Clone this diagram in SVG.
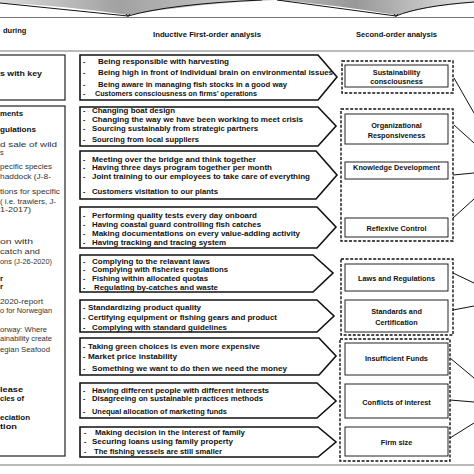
<svg xmlns="http://www.w3.org/2000/svg" width="474" height="474" viewBox="0 0 474 474">
<defs>
<linearGradient id="band" x1="0" y1="0" x2="1" y2="0">
<stop offset="0" stop-color="#bbb"/><stop offset="0.25" stop-color="#555"/><stop offset="0.5" stop-color="#999"/><stop offset="0.75" stop-color="#444"/><stop offset="1" stop-color="#ccc"/>
</linearGradient>
</defs>
<style>
.m{font-family:"Liberation Sans",Arial,sans-serif;font-weight:bold;font-size:7px;fill:#111}
.h{font-family:"Liberation Sans",Arial,sans-serif;font-weight:bold;font-size:7.5px;fill:#111}
.l{font-family:"Liberation Sans",Arial,sans-serif;font-size:7.3px;fill:#333}
.lb{font-family:"Liberation Sans",Arial,sans-serif;font-weight:bold;font-size:8px;fill:#111}
.s{font-family:"Liberation Sans",Arial,sans-serif;font-weight:bold;font-size:7.3px;fill:#111;text-anchor:middle}
.pent{fill:#fff;stroke:#111;stroke-width:1.6}
.dash{fill:none;stroke:#111;stroke-width:1.4;stroke-dasharray:3,1.6}
.inner{fill:#fff;stroke:#222;stroke-width:1}
.box{fill:#fff;stroke:#222;stroke-width:1.2}
.rule{stroke:#777;stroke-width:1;fill:none}
.con{stroke:#111;stroke-width:1;fill:none}
</style>
<rect width="474" height="474" fill="#fff"/>
<g id="header">
<path d="M0,0 H474 V3 Q440,4 396,15 Q330,4 275,0 Q200,3 128,15 Q60,5 0,3 Z" fill="url(#band)" opacity="0.55"/>
<path class="con" d="M0,3 L128,16 Q170,4 262,0"/>
<path class="con" d="M277,0 L396,16 Q420,6 474,2"/>
<path d="M126,14 L128,16.5 L130,14" fill="none" stroke="#111" stroke-width="1"/>
<path d="M394,14 L396,16.5 L398,14" fill="none" stroke="#111" stroke-width="1"/>
<line class="rule" x1="0" y1="17.5" x2="474" y2="17.5"/>
<line class="rule" x1="0" y1="51" x2="474" y2="51"/>
<line class="rule" x1="0" y1="465" x2="474" y2="465"/>
<text class="h" x="3" y="33">during</text>
<text class="h" x="153" y="37" textLength="108" lengthAdjust="spacingAndGlyphs">Inductive First-order analysis</text>
<text class="h" x="356" y="37" textLength="81" lengthAdjust="spacingAndGlyphs">Second-order analysis</text>
</g>
<g id="left1">
<rect class="box" x="-2" y="55" width="67" height="45"/>
<text class="lb" x="0" y="76" textLength="42" lengthAdjust="spacingAndGlyphs">s with key</text>
</g>
<g id="left2">
<rect class="box" x="-2" y="106" width="67" height="350"/>
<text class="lb" x="0" y="116" textLength="23" lengthAdjust="spacingAndGlyphs">ments</text>
<text class="lb" x="0" y="132" textLength="36" lengthAdjust="spacingAndGlyphs">gulations</text>
<text class="l" x="0" y="147" textLength="57" lengthAdjust="spacingAndGlyphs">d sale of wild</text>
<text class="l" x="0" y="155">s</text>
<text class="l" x="0" y="169" textLength="52" lengthAdjust="spacingAndGlyphs">pecific species</text>
<text class="l" x="0" y="179" textLength="51" lengthAdjust="spacingAndGlyphs">haddock (J-8-</text>
<text class="l" x="0" y="194" textLength="60" lengthAdjust="spacingAndGlyphs">tions for specific</text>
<text class="l" x="0" y="204" textLength="56" lengthAdjust="spacingAndGlyphs">( i.e. trawlers, J-</text>
<text class="l" x="0" y="212" textLength="31" lengthAdjust="spacingAndGlyphs">1-2017)</text>
<text class="l" x="0" y="244" textLength="33" lengthAdjust="spacingAndGlyphs">on with</text>
<text class="l" x="0" y="254" textLength="40" lengthAdjust="spacingAndGlyphs">catch and</text>
<text class="l" x="0" y="264" textLength="52" lengthAdjust="spacingAndGlyphs">ons (J-26-2020)</text>
<text class="lb" x="0" y="281">r</text>
<text class="lb" x="0" y="289">r</text>
<text class="l" x="0" y="304" textLength="43" lengthAdjust="spacingAndGlyphs">2020-report</text>
<text class="l" x="0" y="313" textLength="52" lengthAdjust="spacingAndGlyphs">o for Norwegian</text>
<text class="l" x="0" y="332" textLength="47" lengthAdjust="spacingAndGlyphs">orway: Where</text>
<text class="l" x="0" y="341" textLength="52" lengthAdjust="spacingAndGlyphs">ainability create</text>
<text class="l" x="0" y="352" textLength="50" lengthAdjust="spacingAndGlyphs">egian Seafood</text>
<text class="lb" x="0" y="392" textLength="23" lengthAdjust="spacingAndGlyphs">lease</text>
<text class="lb" x="0" y="401" textLength="24" lengthAdjust="spacingAndGlyphs">cles of</text>
<text class="lb" x="0" y="420" textLength="30" lengthAdjust="spacingAndGlyphs">eciation</text>
<text class="lb" x="0" y="429" textLength="17" lengthAdjust="spacingAndGlyphs">tion</text>
</g>
<g id="first1">
<path class="pent" d="M80,55 H318 L337,77 L318,100 H80 Z"/>
<text class="m" x="83" y="63.5">-</text><text class="m" x="83" y="74.5">-</text><text class="m" x="83" y="86.5">-</text><text class="m" x="83" y="95.5">-</text>
<text class="m" x="98" y="63.5" textLength="131" lengthAdjust="spacingAndGlyphs">Being responsible with harvesting</text>
<text class="m" x="98" y="74.5" textLength="235" lengthAdjust="spacingAndGlyphs">Being high in front of Individual brain on environmental issues</text>
<text class="m" x="98" y="86.5" textLength="189" lengthAdjust="spacingAndGlyphs">Being aware in managing fish stocks in a good way</text>
<text class="m" x="95" y="95.5" textLength="162" lengthAdjust="spacingAndGlyphs">Customers consciousness on firms’ operations</text>
</g>
<g id="first2">
<path class="pent" d="M80,107 H318 L336,126 L318,146 H80 Z"/>
<text class="m" x="83" y="112.5">-</text><text class="m" x="83" y="121.5">-</text><text class="m" x="83" y="130.5">-</text><text class="m" x="83" y="141.5">-</text>
<text class="m" x="92" y="112.5" textLength="83" lengthAdjust="spacingAndGlyphs">Changing boat design</text>
<text class="m" x="92" y="121.5" textLength="211" lengthAdjust="spacingAndGlyphs">Changing the way we have been working to meet crisis</text>
<text class="m" x="92" y="130.5" textLength="166" lengthAdjust="spacingAndGlyphs">Sourcing sustainably from strategic partners</text>
<text class="m" x="92" y="141.5" textLength="107" lengthAdjust="spacingAndGlyphs">Sourcing from local suppliers</text>
</g>
<g id="first3">
<path class="pent" d="M80,151 H316 L337,175 L316,199 H80 Z"/>
<text class="m" x="83" y="161.5">-</text><text class="m" x="83" y="169.5">-</text><text class="m" x="83" y="178.5">-</text><text class="m" x="83" y="193.5">-</text>
<text class="m" x="92" y="161.5" textLength="164" lengthAdjust="spacingAndGlyphs">Meeting over the bridge and think together</text>
<text class="m" x="92" y="169.5" textLength="180" lengthAdjust="spacingAndGlyphs">Having three days program together per month</text>
<text class="m" x="92" y="178.5" textLength="218" lengthAdjust="spacingAndGlyphs">Joint training to our employees to take care of everything</text>
<text class="m" x="92" y="193.5" textLength="126" lengthAdjust="spacingAndGlyphs">Customers visitation to our plants</text>
</g>
<g id="first4">
<path class="pent" d="M80,207 H317 L336,227 L317,248 H80 Z"/>
<text class="m" x="83" y="217.5">-</text><text class="m" x="83" y="226.5">-</text><text class="m" x="83" y="235.5">-</text><text class="m" x="83" y="245">-</text>
<text class="m" x="92" y="217.5" textLength="165" lengthAdjust="spacingAndGlyphs">Performing quality tests every day onboard</text>
<text class="m" x="92" y="226.5" textLength="169" lengthAdjust="spacingAndGlyphs">Having coastal guard controlling fish catches</text>
<text class="m" x="92" y="235.5" textLength="208" lengthAdjust="spacingAndGlyphs">Making documentations on every value-adding activity</text>
<text class="m" x="92" y="245" textLength="134" lengthAdjust="spacingAndGlyphs">Having tracking and tracing system</text>
</g>
<g id="first5">
<path class="pent" d="M80,255 H313 L333,273 L313,292 H80 Z"/>
<text class="m" x="83" y="263.5">-</text><text class="m" x="83" y="271.5">-</text><text class="m" x="83" y="280.5">-</text><text class="m" x="83" y="289.5">-</text>
<text class="m" x="92" y="263.5" textLength="118" lengthAdjust="spacingAndGlyphs">Complying to the relavant laws</text>
<text class="m" x="92" y="271.5" textLength="136" lengthAdjust="spacingAndGlyphs">Complying with fisheries regulations</text>
<text class="m" x="92" y="280.5" textLength="116" lengthAdjust="spacingAndGlyphs">Fishing within allocated quotas</text>
<text class="m" x="94" y="289.5" textLength="124" lengthAdjust="spacingAndGlyphs">Regulating by-catches and waste</text>
</g>
<g id="first6">
<path class="pent" d="M80,300 H317 L334,316 L317,332 H80 Z"/>
<text class="m" x="83" y="309.5">-</text><text class="m" x="83" y="319.5">-</text><text class="m" x="83" y="329.5">-</text>
<text class="m" x="88" y="309.5" textLength="113" lengthAdjust="spacingAndGlyphs">Standardizing product quality</text>
<text class="m" x="88" y="319.5" textLength="189" lengthAdjust="spacingAndGlyphs">Certifying equipment or fishing gears and product</text>
<text class="m" x="92" y="329.5" textLength="135" lengthAdjust="spacingAndGlyphs">Complying with standard guidelines</text>
</g>
<g id="first7">
<path class="pent" d="M80,338 H319 L336,356 L319,375 H80 Z"/>
<text class="m" x="83" y="348.5">-</text><text class="m" x="83" y="358.5">-</text><text class="m" x="83" y="370.5">-</text>
<text class="m" x="88" y="348.5" textLength="172" lengthAdjust="spacingAndGlyphs">Taking green choices is even more expensive</text>
<text class="m" x="88" y="358.5" textLength="89" lengthAdjust="spacingAndGlyphs">Market price instability</text>
<text class="m" x="92" y="370.5" textLength="195" lengthAdjust="spacingAndGlyphs">Something we want to do then we need the money</text>
</g>
<g id="first8">
<path class="pent" d="M80,383 H317 L336,401 L317,418 H80 Z"/>
<text class="m" x="83" y="392.5">-</text><text class="m" x="83" y="400.5">-</text><text class="m" x="83" y="413.5">-</text>
<text class="m" x="92" y="392.5" textLength="177" lengthAdjust="spacingAndGlyphs">Having different people with different interests</text>
<text class="m" x="92" y="400.5" textLength="171" lengthAdjust="spacingAndGlyphs">Disagreeing on sustainable practices methods</text>
<text class="m" x="92" y="413.5" textLength="135" lengthAdjust="spacingAndGlyphs">Unequal allocation of marketing funds</text>
</g>
<g id="first9">
<path class="pent" d="M80,427 H318 L336,442 L318,457 H80 Z"/>
<text class="m" x="84" y="434.5">-</text><text class="m" x="84" y="443.5">-</text><text class="m" x="84" y="453.5">-</text>
<text class="m" x="95" y="434.5" textLength="150" lengthAdjust="spacingAndGlyphs">Making decision in the interest of family</text>
<text class="m" x="92" y="443.5" textLength="141" lengthAdjust="spacingAndGlyphs">Securing loans using family property</text>
<text class="m" x="94" y="453.5" textLength="128" lengthAdjust="spacingAndGlyphs">The fishing vessels are still smaller</text>
</g>
<g id="group1">
<rect class="dash" x="342" y="61" width="111" height="32"/>
<g id="sustainability"><rect class="inner" x="345" y="65" width="103" height="22"/>
<text class="s" x="396.5" y="74.5">Sustainability</text><text class="s" x="396.5" y="84">consciousness</text></g>
</g>
<g id="group2">
<rect class="dash" x="341" y="109" width="112" height="132"/>
<g id="organizational"><rect class="inner" x="345" y="114" width="103" height="30"/>
<text class="s" x="396.5" y="127.5">Organizational</text><text class="s" x="396.5" y="137.5">Responsiveness</text></g>
<g id="knowledge"><rect class="inner" x="345" y="162" width="103" height="17"/>
<text class="s" x="396.5" y="169.5">Knowledge Development</text></g>
<g id="reflexive"><rect class="inner" x="345" y="218" width="103" height="19"/>
<text class="s" x="396.5" y="230.5">Reflexive Control</text></g>
</g>
<g id="group3">
<rect class="dash" x="341" y="259" width="112" height="76"/>
<g id="laws"><rect class="inner" x="345" y="264" width="103" height="27"/>
<text class="s" x="396.5" y="280.5">Laws and Regulations</text></g>
<g id="standards"><rect class="inner" x="345" y="300" width="103" height="32"/>
<text class="s" x="396.5" y="313.5">Standards and</text><text class="s" x="396.5" y="324.5">Certification</text></g>
</g>
<g id="group4">
<rect class="dash" x="340" y="339" width="110" height="122"/>
<g id="funds"><rect class="inner" x="345" y="343" width="103" height="32"/>
<text class="s" x="396.5" y="360.5">Insufficient Funds</text></g>
<g id="conflicts"><rect class="inner" x="345" y="384" width="103" height="34"/>
<text class="s" x="396.5" y="404.5">Conflicts of interest</text></g>
<g id="firmsize"><rect class="inner" x="345" y="427" width="103" height="29"/>
<text class="s" x="396.5" y="444.5">Firm size</text></g>
</g>
<g id="connectors">
<line class="con" x1="454" y1="78" x2="474" y2="113"/>
<line class="con" x1="454" y1="125" x2="474" y2="143"/>
<line class="con" x1="453" y1="175" x2="474" y2="173"/>
<line class="con" x1="453" y1="218" x2="474" y2="199"/>
<line class="con" x1="453" y1="273" x2="474" y2="283"/>
<line class="con" x1="453" y1="310" x2="474" y2="306"/>
<line class="con" x1="450" y1="358" x2="474" y2="378"/>
<line class="con" x1="450" y1="400" x2="474" y2="402"/>
<line class="con" x1="450" y1="438" x2="474" y2="423"/>
</g>
</svg>
